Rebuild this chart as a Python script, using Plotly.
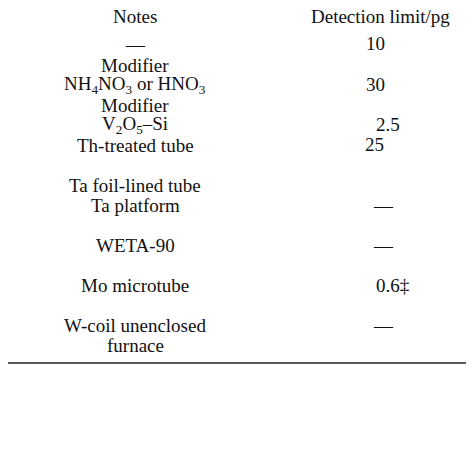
import plotly.graph_objects as go

# table contents
notes = ["—", "Modifier", "NH<sub>4</sub>NO<sub>3</sub> or HNO<sub>3</sub>", "Modifier",
         "V<sub>2</sub>O<sub>5</sub>–Si", "Th-treated tube", "Ta foil-lined tube", "Ta platform",
         "WETA-90", "Mo microtube", "W-coil unenclosed", "furnace"]
notes_y = [36, 57, 77, 97, 117, 137, 177, 197, 237, 277, 317, 337]
limits = ["10", "30", "2.5", "25", "—", "—", "0.6‡", "—"]
limits_y = [35, 76, 116, 136, 197, 237, 277, 317]
limits_x = [367, 367, 380, 366, 375, 375, 384, 375]
footnotes = ["n.", "ce."]
footnotes_y = [377, 417]

fig = go.Figure()
font = dict(family="Liberation Serif", size=19, color="#111")

ann = [dict(x=127, y=8, text="Notes"), dict(x=372, y=8, text="Detection limit/pg")]
for t, y in zip(notes, notes_y):
    ann.append(dict(x=127, y=y, text=t))
for t, x, y in zip(limits, limits_x, limits_y):
    ann.append(dict(x=x, y=y, text=t))
for t, y in zip(footnotes, footnotes_y):
    ann.append(dict(x=-2, y=y, text=t, xanchor="left"))
ann.append(dict(x=290, y=472, text="<b>Samples</b>"))
for a in ann:
    a.update(xref="x", yref="y", showarrow=False, font=font)
    a.setdefault("xanchor", "center")

fig.update_layout(
    annotations=ann,
    shapes=[dict(type="line", x0=-10, x1=490, y0=355, y1=355, xref="x", yref="y",
                 line=dict(color="#222", width=1.5))],
    width=474, height=474, margin=dict(l=0, r=0, t=0, b=0, pad=0),
    plot_bgcolor="white", paper_bgcolor="white", showlegend=False,
    xaxis=dict(range=[0, 474], visible=False),
    yaxis=dict(range=[474, 0], visible=False),
)
fig.write_html("out.html")
